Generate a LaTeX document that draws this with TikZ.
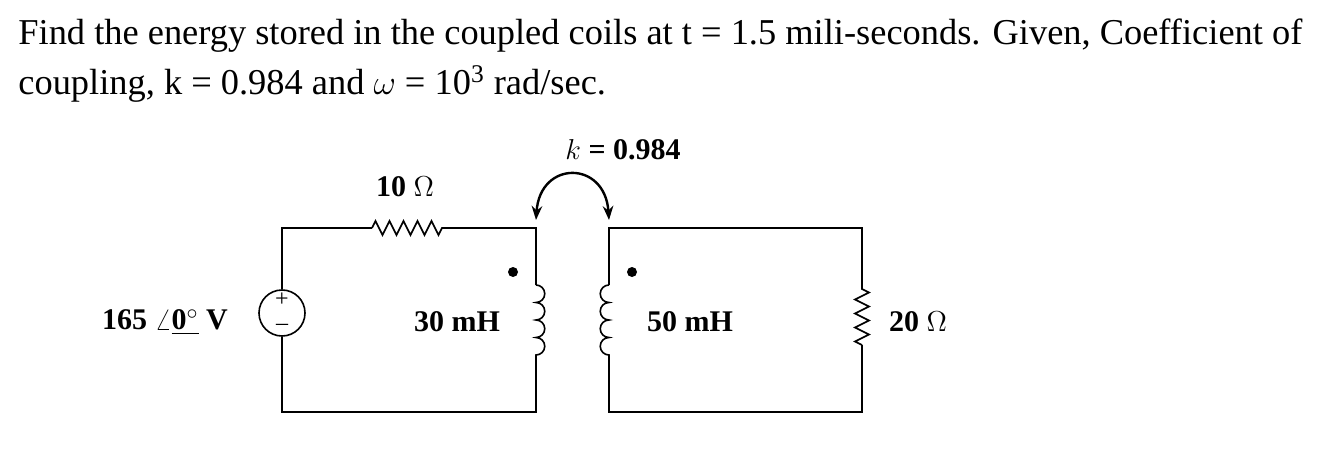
\documentclass[tikz,border=0pt]{standalone}
\usepackage{fontspec}
\setmainfont{Liberation Serif}
\usetikzlibrary{decorations.pathmorphing,arrows.meta}
\begin{document}
\begin{tikzpicture}[x=0.5pt,y=-0.5pt,
  wire/.style={line width=0.8pt},
  lbl/.style={font=\fontsize{15}{17}\selectfont\bfseries},
  zig/.style={wire,decorate,decoration={zigzag,segment length=7pt,amplitude=3.5pt}}]
\useasboundingbox (0,0) rectangle (1328,460);
\node[anchor=west,font=\fontsize{18.2}{20}\selectfont,inner sep=0] (t1) at (18,36) {Find the energy stored in the coupled coils at t = 1.5 mili-seconds. Given, Coefficient of};
\node[anchor=west,font=\fontsize{18.2}{20}\selectfont,inner sep=0] (t2) at (18,84) {coupling, k = 0.984 and $\omega$ = 10\textsuperscript{3} rad/sec.};
\coordinate (tl) at (282,228); \coordinate (bl) at (282,412);
\coordinate (r1a) at (372,228); \coordinate (r1b) at (443,228);
\coordinate (l1t) at (536,228); \coordinate (l1a) at (536,285); \coordinate (l1d) at (536,412);
\coordinate (l2t) at (609,228); \coordinate (l2a) at (609,285); \coordinate (l2d) at (609,412);
\coordinate (tr) at (862,228); \coordinate (br) at (862,412);
\coordinate (r2a) at (862,287); \coordinate (r2b) at (862,345);
\node[circle,draw,wire,minimum size=23pt,inner sep=0] (vs) at (282,313) {};
\node[font=\fontsize{12}{12}\selectfont,inner sep=0] at (282,300) {+};
\node[font=\fontsize{12}{12}\selectfont,inner sep=0] at (282,327) {--};
\draw[wire] (vs.north) -- (tl) -- (r1a);
\draw[zig] (r1a) -- (r1b);
\draw[wire] (r1b) -- (l1t) -- (l1a);
\draw[wire] (l1a) \foreach \i in {0,1,2,3}{ arc[start angle=-90,end angle=90,radius=8.75] } -- (l1d) -- (bl) -- (vs.south);
\draw[wire] (l2a) \foreach \i in {0,1,2,3}{ arc[start angle=270,end angle=90,radius=8.75] } -- (l2d) -- (br) -- (r2b);
\draw[zig] (r2b) -- (r2a);
\draw[wire] (r2a) -- (tr) -- (l2t) -- (l2a);
\fill (513,272) circle (5); \fill (632,272) circle (5);
\draw[line width=1.2pt,{Stealth[length=7pt]}-{Stealth[length=7pt]}] (536,220) .. controls (540,160) and (605,160) .. (609,220);
\node[lbl] at (405,187) {10 $\Omega$};
\node[lbl] at (623,150) {$k$ = 0.984};
\node[lbl] at (457,322) {30 mH};
\node[lbl] at (690,322) {50 mH};
\node[lbl] at (918,322) {20 $\Omega$};
\node[lbl] at (165,322) {165 $\angle$\underline{0\textsuperscript{$\circ$}} V};
\end{tikzpicture}
\end{document}
